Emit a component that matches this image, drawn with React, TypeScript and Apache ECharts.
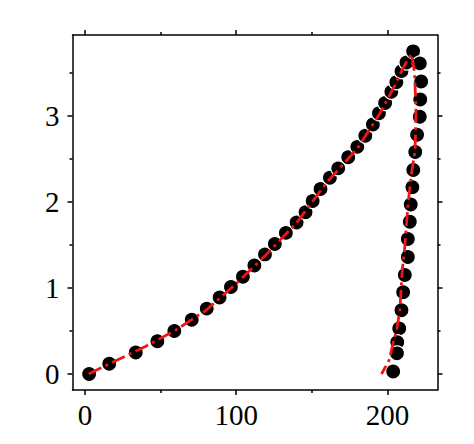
import React, { useEffect, useRef } from "react";
import * as echarts from "echarts";

// Rising branch (black dots)
const risingX = [2.8, 16.1, 33.6, 47.9, 59.1, 70.6, 80.5, 89.0, 96.5, 104.4, 112.0, 119.0, 125.5, 132.8, 139.9, 145.8, 150.5, 155.7, 161.9, 167.4, 174.0, 180.0, 185.3, 190.3, 194.3, 198.4, 202.5, 205.8, 209.2, 212.5, 216.9];
const risingY = [0.0, 0.12, 0.25, 0.38, 0.5, 0.63, 0.76, 0.89, 1.01, 1.13, 1.26, 1.39, 1.51, 1.64, 1.76, 1.88, 2.01, 2.15, 2.28, 2.39, 2.52, 2.64, 2.77, 2.9, 3.03, 3.15, 3.28, 3.39, 3.52, 3.62, 3.75];

// Falling branch (black dots)
const fallingX = [221.3, 222.2, 221.6, 221.3, 219.5, 218.3, 217.0, 216.4, 215.3, 214.7, 213.4, 213.4, 211.4, 210.3, 209.2, 207.7, 206.4, 206.2, 203.7];
const fallingY = [3.61, 3.4, 3.19, 2.99, 2.78, 2.58, 2.37, 2.17, 1.97, 1.77, 1.57, 1.36, 1.15, 0.95, 0.74, 0.53, 0.37, 0.24, 0.03];

// Red dash-dot fit curve
const fitX = [2.5, 20, 40, 60, 80, 100, 120, 140, 160, 180, 195, 205, 211, 214.5, 216, 217.8, 218.8, 218.2, 216, 214.3, 212.9, 211.4, 209.7, 208.1, 206, 203.7, 201, 196];
const fitY = [0.0, 0.15, 0.32, 0.51, 0.74, 1.05, 1.39, 1.76, 2.23, 2.62, 3.03, 3.36, 3.58, 3.68, 3.72, 3.5, 3.1, 2.6, 2.35, 2.1, 1.83, 1.48, 1.2, 0.74, 0.51, 0.36, 0.16, 0.0];

// Tick values
const xMajor = [0, 100, 200];
const xMinor = [50, 150];
const yMajor = [0, 1, 2, 3];
const yMinor = [0.5, 1.5, 2.5, 3.5];

const X_MIN = -8.2;
const X_MAX = 233.0;
const Y_MIN = -0.186;
const Y_MAX = 3.94;

const FONT = "Liberation Serif";

function makeAxis(kind: "x" | "y", position: string, ticks: number[], len: number, showLine: boolean, showLabel: boolean) {
  const labelValues = kind === "x" ? xMajor : yMajor;
  return {
    type: "value",
    position,
    min: kind === "x" ? X_MIN : Y_MIN,
    max: kind === "x" ? X_MAX : Y_MAX,
    axisLine: { show: showLine, onZero: false, lineStyle: { color: "#000", width: 1.5 } },
    axisTick: {
      show: true,
      inside: false,
      length: len,
      customValues: ticks,
      lineStyle: { color: "#000", width: 1.5 },
    },
    axisLabel: {
      show: showLabel,
      customValues: labelValues,
      fontFamily: FONT,
      fontSize: 29,
      color: "#000",
      margin: kind === "x" ? 10 : 13,
    },
    splitLine: { show: false },
    minorTick: { show: false },
  };
}

export default function App() {
  const ref = useRef<HTMLDivElement>(null);
  useEffect(() => {
    if (!ref.current) return;
    const chart = echarts.init(ref.current, null, { renderer: "svg" });
    const dots = [
      ...risingX.map((x, i) => [x, risingY[i]]),
      ...fallingX.map((x, i) => [x, fallingY[i]]),
    ];
    const fit = fitX.map((x, i) => [x, fitY[i]]);
    chart.setOption({
      animation: false,
      backgroundColor: "#fff",
      grid: { left: 72.5, right: 36.5, top: 35, bottom: 54, containLabel: false },
      xAxis: [
        makeAxis("x", "bottom", xMajor, 5, true, true),
        makeAxis("x", "bottom", xMinor, 3, false, false),
        makeAxis("x", "top", xMajor, 5, true, false),
        makeAxis("x", "top", xMinor, 3, false, false),
      ],
      yAxis: [
        makeAxis("y", "left", yMajor, 5, true, true),
        makeAxis("y", "left", yMinor, 3, false, false),
        makeAxis("y", "right", yMajor, 5, true, false),
        makeAxis("y", "right", yMinor, 3, false, false),
      ],
      series: [
        {
          type: "scatter",
          xAxisIndex: 0,
          yAxisIndex: 0,
          data: dots,
          symbol: "circle",
          symbolSize: 15,
          itemStyle: { color: "#000", borderColor: "#fff", borderWidth: 1.2, opacity: 1 },
          z: 2,
        },
        {
          type: "line",
          xAxisIndex: 0,
          yAxisIndex: 0,
          data: fit,
          showSymbol: false,
          symbol: "none",
          lineStyle: { color: "#f01414", width: 2.8, type: [14, 4.5, 3, 4.5] },
          z: 3,
        },
      ],
    });
    return () => chart.dispose();
  }, []);
  return (
    <div
      ref={ref}
      style={{ position: "fixed", left: 0, top: 0, width: 474, height: 444, background: "#fff" }}
    />
  );
}
